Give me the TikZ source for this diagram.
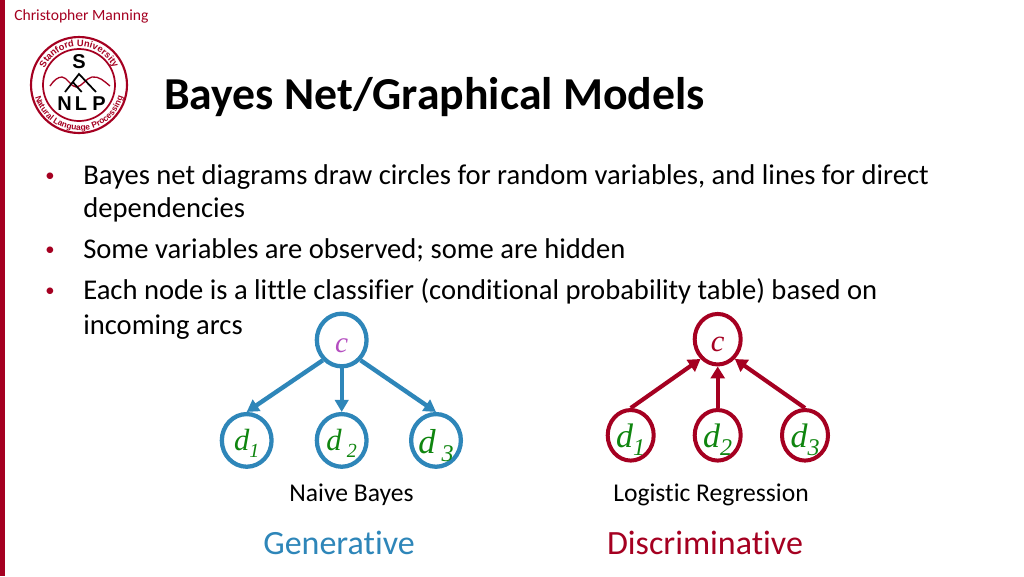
\documentclass[tikz,border=0pt]{standalone}
\usepackage{fontspec}
\setmainfont[Ligatures=CommonOff]{Carlito}
\newfontfamily\serifit[ItalicFont={Liberation Serif Italic}]{Liberation Serif}
\newfontfamily\logofont{Liberation Sans}
\usetikzlibrary{arrows.meta,decorations.text,shapes.geometric}
\definecolor{cardinal}{HTML}{A50021}
\definecolor{netblue}{HTML}{2E86B9}
\definecolor{vargreen}{HTML}{0F850F}
\definecolor{varpurple}{HTML}{B44DC0}
\tikzset{
  x=0.75pt,y=-0.75pt,
  body/.style={anchor=base west,inner sep=0pt,font=\fontsize{21.45pt}{26pt}\selectfont,text=black},
  bullet/.style={anchor=base,inner sep=0pt,font=\fontsize{14pt}{16pt}\selectfont,text=cardinal},
  caption/.style={anchor=base,inner sep=0pt,font=\fontsize{19.2pt}{22pt}\selectfont,text=black},
  heading/.style={anchor=base,inner sep=0pt,font=\fontsize{25.5pt}{30pt}\selectfont},
  baseat/.style={text height=#1,text depth=0pt},
  bluevar/.style={ellipse,draw=netblue,line width=3.2pt,minimum width=37.3pt,minimum height=39.5pt,inner sep=0pt},
  redvar/.style={ellipse,draw=cardinal,line width=3pt,minimum width=34.5pt,minimum height=37.9pt,inner sep=0pt},
  bluearc/.style={draw=netblue,line width=3.3pt,-{Triangle[length=9pt,width=10pt]}},
  redarc/.style={draw=cardinal,line width=3.1pt,-{Triangle[length=9pt,width=10.5pt]}},
  logoletter/.style={inner sep=0pt,font=\fontsize{15pt}{16pt}\logofont\bfseries},
}
\newcommand{\varsym}[3]{{\fontsize{#1}{#1}\selectfont\serifit\color{#2}\itshape #3}}
\newcommand{\varsub}[3]{\raisebox{#2}{\fontsize{#1}{#1}\selectfont #3}}
\begin{document}
\begin{tikzpicture}
\useasboundingbox (0,0) rectangle (1024,576);
\fill[white] (0,0) rectangle (1024,576);
\fill[cardinal] (0,0) rectangle (5,576);
\node[anchor=base west,inner sep=0pt,font=\fontsize{11.7pt}{14pt}\selectfont,text=cardinal] (author) at (14,20) {Christopher Manning};
% logo
\draw[cardinal,line width=1.6pt] (79,85) circle (48);
\draw[cardinal,line width=1.3pt] (79,85) circle (36);
\path[decorate,decoration={text along path,text align=center,
  text={|\fontsize{7pt}{7pt}\logofont\bfseries\color{cardinal}|Stanford University}}]
  (79,85) ++(190:38.5) arc[start angle=190,end angle=350,radius=38.5];
\path[decorate,decoration={text along path,text align=center,
  text={|\fontsize{6.3pt}{7pt}\logofont\bfseries\color{cardinal}|Natural Language Processing}}]
  (79,85) ++(175:45.5) arc[start angle=175,end angle=5,radius=45.5];
\node[logoletter] (logoS) at (79,62) {S};
\node[logoletter] (logoN) at (64.5,104) {N};
\node[logoletter] (logoL) at (81,104) {L};
\node[logoletter] (logoP) at (99,104) {P};
\draw[cardinal,line width=1pt] (50,86) .. controls (54,80) and (58,77) .. (62,77) .. controls (67,77) and (71,87) .. (76,87) .. controls (82,87) and (86,78) .. (92,77) .. controls (99,76) and (104,81) .. (110,86);
\draw[black,line width=1.3pt] (65,92) -- (79,74) -- (96,92) (72.7,82) -- (81.7,92);
% title
\node[anchor=base west,inner sep=0pt,font=\fontsize{34.3pt}{40pt}\selectfont\bfseries] (title) at (164,109) {Bayes Net/Graphical Models};
% bullets
\node[bullet] (b1) at (50,181.5) {•};
\node[body] (t1) at (83,184) {Bayes net diagrams draw circles for random variables, and lines for direct};
\node[body] (t1b) at (83,217.5) {dependencies};
\node[bullet] (b2) at (50,255.5) {•};
\node[body] (t2) at (83,258) {Some variables are observed; some are hidden};
\node[bullet] (b3) at (50,296.5) {•};
\node[body] (t3) at (83,299.5) {Each node is a little classifier (conditional probability table) based on};
\node[body] (t3b) at (83,334) {incoming arcs};
% naive bayes
\node[bluevar,baseat=18pt] (c1) at (341.7,340) {\varsym{22pt}{varpurple}{c}};
\node[bluevar,baseat=15pt] (n1) at (246.7,440.4) {\varsym{23pt}{vargreen}{d\varsub{15pt}{-5pt}{1}}};
\node[bluevar,baseat=15pt] (n2) at (341.7,440.4) {\varsym{23pt}{vargreen}{d\,\varsub{15pt}{-5pt}{2}}};
\node[bluevar,baseat=19pt] (n3) at (436,440.4) {\varsym{26pt}{vargreen}{d\,\varsub{18pt}{-6pt}{3}}};
\draw[bluearc] (c1.227) -- (n1.north);
\draw[bluearc] (c1.south) -- (n2.north);
\draw[bluearc] (c1.-47) -- (n3.north);
% logistic regression
\node[redvar,baseat=18.8pt] (c2) at (717.7,339.2) {\varsym{23pt}{cardinal}{c}};
\node[redvar,baseat=19pt] (m1) at (630.7,435.3) {\varsym{25.5pt}{vargreen}{d\varsub{18pt}{-5.3pt}{1}}};
\node[redvar,baseat=19pt] (m2) at (717.7,435.3) {\varsym{25.5pt}{vargreen}{d\varsub{18pt}{-5.3pt}{2}}};
\node[redvar,baseat=19pt] (m3) at (805,435.3) {\varsym{25.5pt}{vargreen}{d\varsub{18pt}{-5.3pt}{3}}};
\draw[redarc] (m1.north) -- (c2.229);
\draw[redarc] (m2.north) -- (c2.south);
\draw[redarc] (m3.north) -- (c2.-49);
% captions
\node[caption] (cap1) at (351.5,501) {Naive Bayes};
\node[caption] (cap2) at (711,501) {Logistic Regression};
\node[heading,text=netblue] (gen) at (339,554) {Generative};
\node[heading,text=cardinal] (dis) at (705,554) {Discriminative};
\end{tikzpicture}
\end{document}
